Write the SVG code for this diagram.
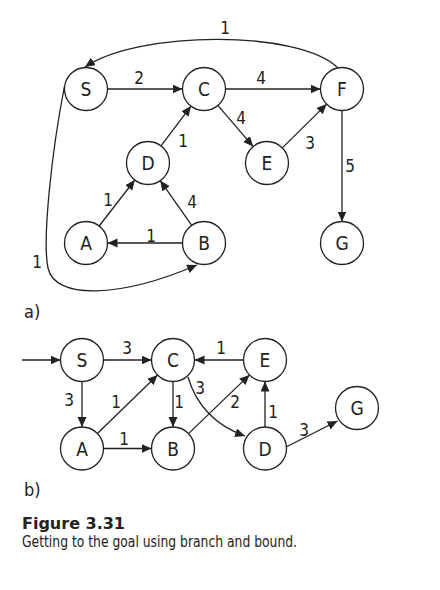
<svg xmlns="http://www.w3.org/2000/svg" width="440" height="590" viewBox="0 0 440 590">
<style>
.n circle{fill:#fff;stroke:#222;stroke-width:1.3}
.n text{font-family:"DejaVu Sans Condensed","Liberation Sans",sans-serif;font-size:19px;fill:#222;text-anchor:middle}
.e path,.e line{fill:none;stroke:#222;stroke-width:1.3;marker-end:url(#ah)}
.l{font-family:"DejaVu Sans Condensed","Liberation Sans",sans-serif;font-size:17px;fill:#222;text-anchor:middle}
.cap{font-family:"DejaVu Sans Condensed","Liberation Sans",sans-serif;fill:#222}
</style>
<defs>
<marker id="ah" markerUnits="userSpaceOnUse" markerWidth="11" markerHeight="10" refX="10" refY="4.5" orient="auto">
<path d="M0,0 L10,4.5 L0,9 z" fill="#222"/>
</marker>
</defs>
<rect width="440" height="590" fill="#fff"/>

<g id="connectors-a" class="e">
<line x1="107.5" y1="89" x2="182.5" y2="89"/>
<line x1="225.5" y1="89" x2="320.5" y2="89"/>
<line x1="217.9" y1="105.4" x2="253.1" y2="146.6"/>
<line x1="282.3" y1="147.9" x2="326.7" y2="104.1"/>
<line x1="342" y1="110.5" x2="342" y2="221.5"/>
<line x1="161" y1="145.9" x2="191" y2="106.1"/>
<line x1="99.2" y1="226" x2="134.8" y2="180"/>
<line x1="191.7" y1="225.4" x2="160.3" y2="180.6"/>
<line x1="182.5" y1="243" x2="107.5" y2="243"/>
<path d="M338,68 C300,30 140,30 85,67"/>
<path d="M64.5,86 C52,150 42,240 48,268 C55,300 120,298 197,265"/>
</g>
<g id="labels-a">
<text class="l" x="139" y="84">2</text>
<text class="l" x="261" y="84">4</text>
<text class="l" x="241" y="124">4</text>
<text class="l" x="310" y="149">3</text>
<text class="l" x="350" y="172">5</text>
<text class="l" x="183" y="147">1</text>
<text class="l" x="108" y="206">1</text>
<text class="l" x="192" y="208">4</text>
<text class="l" x="151" y="242">1</text>
<text class="l" x="225" y="34">1</text>
<text class="l" x="37" y="268">1</text>
</g>
<g id="a-S" class="n"><circle cx="86" cy="89" r="21.5"/><text x="86" y="96">S</text></g>
<g id="a-C" class="n"><circle cx="204" cy="89" r="21.5"/><text x="204" y="96">C</text></g>
<g id="a-F" class="n"><circle cx="342" cy="89" r="21.5"/><text x="342" y="96">F</text></g>
<g id="a-D" class="n"><circle cx="148" cy="163" r="21.5"/><text x="148" y="170">D</text></g>
<g id="a-E" class="n"><circle cx="267" cy="163" r="21.5"/><text x="267" y="170">E</text></g>
<g id="a-A" class="n"><circle cx="86" cy="243" r="21.5"/><text x="86" y="250">A</text></g>
<g id="a-B" class="n"><circle cx="204" cy="243" r="21.5"/><text x="204" y="250">B</text></g>
<g id="a-G" class="n"><circle cx="342" cy="243" r="21.5"/><text x="342" y="250">G</text></g>
<text class="cap" x="24" y="318" font-size="18">a)</text>

<g id="connectors-b" class="e">
<line x1="22" y1="360" x2="60.5" y2="360"/>
<line x1="103.5" y1="360" x2="151.5" y2="360"/>
<line x1="243" y1="360" x2="194.5" y2="360"/>
<line x1="82" y1="381.5" x2="82" y2="427"/>
<line x1="97.4" y1="433.5" x2="157.6" y2="375"/>
<line x1="173" y1="381.5" x2="173" y2="427"/>
<line x1="188.5" y1="433.6" x2="249.5" y2="374.9"/>
<line x1="103.5" y1="448.5" x2="151.5" y2="448.5"/>
<line x1="265" y1="427" x2="265" y2="381.5"/>
<line x1="286" y1="447" x2="337.5" y2="421"/>
<path d="M188,377 C196,405 216,426 245,436"/>
</g>
<g id="labels-b">
<text class="l" x="127" y="354">3</text>
<text class="l" x="221" y="354">1</text>
<text class="l" x="69" y="406">3</text>
<text class="l" x="116" y="408">1</text>
<text class="l" x="179" y="408">1</text>
<text class="l" x="200" y="394">3</text>
<text class="l" x="235" y="408">2</text>
<text class="l" x="273" y="418">1</text>
<text class="l" x="124" y="445">1</text>
<text class="l" x="304" y="436">3</text>
</g>
<g id="b-S" class="n"><circle cx="82" cy="360" r="21.5"/><text x="82" y="367">S</text></g>
<g id="b-C" class="n"><circle cx="173" cy="360" r="21.5"/><text x="173" y="367">C</text></g>
<g id="b-E" class="n"><circle cx="265" cy="360" r="21.5"/><text x="265" y="367">E</text></g>
<g id="b-A" class="n"><circle cx="82" cy="448.5" r="21.5"/><text x="82" y="455.5">A</text></g>
<g id="b-B" class="n"><circle cx="173" cy="448.5" r="21.5"/><text x="173" y="455.5">B</text></g>
<g id="b-D" class="n"><circle cx="265" cy="448.5" r="21.5"/><text x="265" y="455.5">D</text></g>
<g id="b-G" class="n"><circle cx="357" cy="408" r="21.5"/><text x="357" y="415">G</text></g>
<text class="cap" x="24" y="496" font-size="18">b)</text>

<text class="cap" x="22" y="529" font-size="15" font-weight="bold" textLength="103" lengthAdjust="spacingAndGlyphs">Figure 3.31</text>
<text class="cap" x="22" y="547" font-size="15" textLength="275" lengthAdjust="spacingAndGlyphs">Getting to the goal using branch and bound.</text>
</svg>
